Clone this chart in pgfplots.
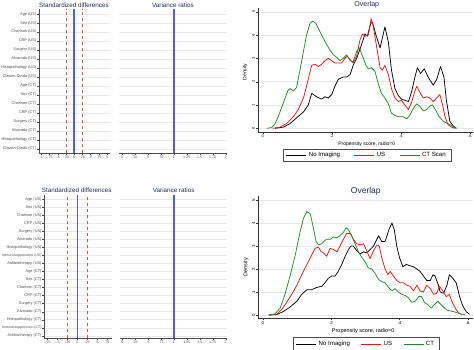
\documentclass[border=0pt]{standalone}
\usepackage{fontspec}
\setmainfont{Liberation Sans}
\usepackage{pgfplots}
\pgfplotsset{compat=1.18}
\definecolor{stblue}{RGB}{90,90,225}
\definecolor{stred}{RGB}{205,90,70}
\definecolor{stgreen}{RGB}{30,140,40}
\definecolor{stcurvered}{RGB}{240,20,20}
\definecolor{sttitle}{RGB}{30,45,90}
\definecolor{stgrid}{RGB}{232,232,232}
\newcommand{\smallerlab}[1]{{\fontsize{3.5}{4}\selectfont #1}}
\pgfplotsset{
  bal/.style={
    scale only axis, anchor=south west,
    axis x line=bottom, axis y line=left,
    axis line style={-, line width=0.4pt, black!70},
    ymajorgrids, grid style={stgrid, line width=0.4pt},
    tick style={black!70, line width=0.3pt},
    major tick length=1.8pt, tick align=outside,
    ticklabel style={font=\fontsize{3.6}{4}\selectfont, text=black!70},
    yticklabel style={font=\fontsize{3.9}{4.2}\selectfont, inner sep=0.8pt},
    xticklabel style={inner sep=0.8pt},
    every axis title/.style={font=\fontsize{6.3}{7}\selectfont, text=sttitle, anchor=center, inner sep=0pt},
  },
  vr/.style={bal, y axis line style={draw=none}, ytick style={draw=none}, yticklabels={}},
  ov/.style={
    scale only axis, anchor=south west,
    axis x line=bottom, axis y line=left,
    axis line style={-, line width=0.4pt, black!80},
    ymajorgrids, grid style={stgrid, line width=0.4pt},
    tick style={black!80, line width=0.3pt},
    major tick length=2pt, tick align=outside,
    xtick={0,0.2,0.4,0.6}, xticklabels={0,.2,.4,.6},
    ytick={0,1,2,3,4,5}, yticklabels={0,1,2,3,4,5},
    yticklabel style={rotate=90, anchor=south, inner sep=1pt},
    xticklabel style={inner sep=1pt},
    every axis title/.style={anchor=center, text=sttitle, inner sep=0pt},
    xlabel style={anchor=center}, ylabel style={anchor=center},
    legend columns=3,
    legend image code/.code={\draw[##1] (0pt,0pt) -- (20pt,0pt);},
    every axis plot/.append style={line width=0.75pt, line join=round},
  },
}
\begin{document}
\begin{tikzpicture}[x=1pt,y=1pt]
\useasboundingbox (0,0) rectangle (474,349);
\clip (0,0) rectangle (474,349);

% ---------- Top-left: standardized differences ----------
\begin{axis}[bal, at={(39pt,195.7pt)}, width=71pt, height=144.3pt,
  xmin=-1.07, xmax=1.09, ymin=0.49, ymax=16.56,
  xtick={-1,-0.75,-0.5,-0.25,0,0.25,0.5,0.75,1},
  xticklabels={-1,-.75,-.5,-.25,0,.25,.5,.75,1},
  ytick={1,...,16},
  yticklabels={Clavien-Dindo (CT),Histopathology (CT),Alvarado (CT),Surgery (CT),CRP (CT),Charlson (CT),Sex (CT),Age (CT),Clavien-Dindo (US),Histopathology (US),Alvarado (US),Surgery (US),CRP (US),Charlson (US),Sex (US),Age (US)},
  title={Standardized differences}, title style={at={(axis description cs:0.493,1.026)}}]
\addplot[stred, dashed, line width=0.5pt] coordinates {(-0.25,0.49) (-0.25,16.56)};
\addplot[stred, dashed, line width=0.5pt] coordinates {(0.25,0.49) (0.25,16.56)};
\addplot[stblue, line width=1.5pt] coordinates {(0,0.49) (0,16.56)};
\end{axis}

% ---------- Top-left: variance ratios ----------
\begin{axis}[vr, at={(119.3pt,195.7pt)}, width=107.4pt, height=144.3pt,
  xmin=-0.05, xmax=2.02, ymin=0.49, ymax=16.56,
  xtick={0,0.25,0.5,0.75,1,1.25,1.5,1.75,2},
  xticklabels={0,.25,.5,.75,1,1.25,1.5,1.75,2},
  ytick={1,...,16},
  title={Variance ratios}, title style={at={(axis description cs:0.5,1.026)}}]
\addplot[stblue, line width=1.5pt] coordinates {(1,0.49) (1,16.56)};
\end{axis}

% ---------- Top-right: overlap ----------
\begin{axis}[ov, at={(258pt,217.3pt)}, width=215.3pt, height=123.7pt,
  xmin=-0.0136, xmax=0.61, ymin=-0.146, ymax=5.16,
  ticklabel style={font=\fontsize{4}{4.5}\selectfont},
  title={Overlap}, title style={font=\fontsize{7.1}{8}\selectfont, at={(axis description cs:0.505,1.03)}},
  xlabel={Propensity score, radio=0}, xlabel style={font=\fontsize{5}{6}\selectfont, at={(axis description cs:0.505,-0.099)}},
  ylabel={Density}, ylabel style={font=\fontsize{5}{6}\selectfont, at={(axis description cs:-0.06,0.483)}},
  legend style={at={(axis description cs:0.506,-0.14)}, anchor=north, draw=black!70, line width=0.4pt,
    font=\fontsize{6.1}{7}\selectfont, inner xsep=3pt, inner ysep=1.2pt,
    /tikz/every even column/.append style={column sep=12pt}}]
\addplot[black] coordinates {(0.036,0) (0.06,0.05) (0.079,0.2) (0.098,0.45) (0.118,0.7) (0.132,1.0) (0.142,1.5) (0.156,1.35) (0.171,1.25) (0.18,1.35) (0.19,1.3) (0.2,1.45) (0.209,1.8) (0.219,2.1) (0.233,2.2) (0.243,2.2) (0.253,2.3) (0.262,2.7) (0.272,3.0) (0.282,3.4) (0.291,3.8) (0.296,4.05) (0.303,3.95) (0.313,4.5) (0.318,4.55) (0.328,4.0) (0.34,3.45) (0.354,4.35) (0.364,3.7) (0.373,2.5) (0.383,1.7) (0.393,1.4) (0.402,1.25) (0.412,1.2) (0.422,1.15) (0.431,1.55) (0.441,2.2) (0.448,2.6) (0.457,2.35) (0.468,2.55) (0.479,2.2) (0.494,1.85) (0.504,2.1) (0.515,2.65) (0.525,2.2) (0.532,1.2) (0.542,0.3) (0.552,0.1) (0.561,0)};
\addlegendentry{No Imaging}
\addplot[stcurvered] coordinates {(0.029,0) (0.05,0.05) (0.069,0.2) (0.089,0.5) (0.103,0.8) (0.118,1.3) (0.127,1.8) (0.135,2.3) (0.142,2.7) (0.151,2.75) (0.161,2.65) (0.171,2.75) (0.18,2.9) (0.19,3.0) (0.2,2.9) (0.209,2.8) (0.219,2.8) (0.229,2.8) (0.238,3.0) (0.245,3.1) (0.253,2.95) (0.262,2.8) (0.272,3.1) (0.282,3.8) (0.289,4.05) (0.296,3.95) (0.306,4.0) (0.314,4.7) (0.32,4.4) (0.33,3.5) (0.34,2.6) (0.347,2.5) (0.354,2.7) (0.364,2.3) (0.373,1.7) (0.383,1.3) (0.393,1.15) (0.402,1.2) (0.412,1.0) (0.422,0.8) (0.431,1.1) (0.441,1.6) (0.446,1.8) (0.455,1.55) (0.465,1.3) (0.475,1.35) (0.484,1.3) (0.494,1.15) (0.504,1.3) (0.513,1.45) (0.521,1.0) (0.528,0.5) (0.537,0.15) (0.547,0.05) (0.557,0)};
\addlegendentry{US}
\addplot[stgreen] coordinates {(0.012,0) (0.026,0.03) (0.036,0.2) (0.045,0.5) (0.055,0.9) (0.065,1.3) (0.074,1.65) (0.079,1.7) (0.089,1.6) (0.098,1.75) (0.108,2.5) (0.118,3.3) (0.127,4.0) (0.137,4.5) (0.145,4.6) (0.154,4.5) (0.164,4.2) (0.176,3.85) (0.185,3.6) (0.195,3.35) (0.205,3.15) (0.214,3.05) (0.224,2.9) (0.233,3.0) (0.243,3.15) (0.253,2.9) (0.262,2.85) (0.272,3.3) (0.28,3.45) (0.289,3.1) (0.299,2.7) (0.306,2.55) (0.315,2.6) (0.325,2.45) (0.335,1.9) (0.344,1.5) (0.354,1.3) (0.364,1.05) (0.373,0.65) (0.383,0.55) (0.393,0.5) (0.407,0.5) (0.417,0.4) (0.426,0.55) (0.436,0.85) (0.446,1.05) (0.455,0.95) (0.465,0.75) (0.475,0.8) (0.484,0.95) (0.492,1.0) (0.502,0.75) (0.511,0.5) (0.523,0.3) (0.537,0.2) (0.552,0.07) (0.561,0)};
\addlegendentry{CT Scan}
\end{axis}

% ---------- Bottom-left: standardized differences ----------
\begin{axis}[bal, at={(44.3pt,10.7pt)}, width=67.4pt, height=143.3pt,
  xmin=-0.833, xmax=0.869, ymin=0.68, ymax=18.54,
  xtick={-0.75,-0.5,-0.25,0,0.25,0.5,0.75},
  xticklabels={-.75,-.5,-.25,0,.25,.5,.75},
  ytick={1,...,18},
  yticklabels={Antibiotherapy (CT),\smallerlab{Immunosuppression (CT)},Histopathology (CT),Alvarado (CT),Surgery (CT),CRP (CT),Charlson (CT),Sex (CT),Age (CT),Antibiotherapy (US),\smallerlab{Immunosuppression (US)},Histopathology (US),Alvarado (US),Surgery (US),CRP (US),Charlson (US),Sex (US),Age (US)},
  title={Standardized differences}, title style={at={(axis description cs:0.481,1.03)}}]
\addplot[stred, dashed, line width=0.5pt] coordinates {(-0.25,0.68) (-0.25,18.54)};
\addplot[stred, dashed, line width=0.5pt] coordinates {(0.25,0.68) (0.25,18.54)};
\addplot[stblue, line width=1.5pt] coordinates {(0,0.68) (0,18.54)};
\end{axis}

% ---------- Bottom-left: variance ratios ----------
\begin{axis}[vr, at={(119.7pt,10.7pt)}, width=107pt, height=143.3pt,
  xmin=-0.05, xmax=2.02, ymin=0.68, ymax=18.54,
  xtick={0,0.25,0.5,0.75,1,1.25,1.5,1.75,2},
  xticklabels={0,.25,.5,.75,1,1.25,1.5,1.75,2},
  ytick={1,...,18},
  title={Variance ratios}, title style={at={(axis description cs:0.505,1.03)}}]
\addplot[stblue, line width=1.5pt] coordinates {(1,0.68) (1,18.54)};
\end{axis}

% ---------- Bottom-right: overlap ----------
\begin{axis}[ov, at={(258.3pt,30.7pt)}, width=215pt, height=122.6pt,
  xmin=-0.013, xmax=0.616, ymin=-0.143, ymax=5.19,
  ticklabel style={font=\fontsize{4.4}{5}\selectfont},
  title={Overlap}, title style={font=\fontsize{8.5}{9}\selectfont, at={(axis description cs:0.5,1.038)}},
  xlabel={Propensity score, radio=0}, xlabel style={font=\fontsize{5.5}{6.5}\selectfont, at={(axis description cs:0.488,-0.101)}},
  ylabel={Density}, ylabel style={font=\fontsize{5.5}{6.5}\selectfont, at={(axis description cs:-0.057,0.416)}},
  legend style={at={(axis description cs:0.501,-0.155)}, anchor=north, draw=black!70, line width=0.4pt,
    font=\fontsize{6.1}{7}\selectfont, inner xsep=3pt, inner ysep=1.5pt,
    /tikz/every even column/.append style={column sep=9pt}}]
\addplot[black] coordinates {(0.017,0) (0.041,0.02) (0.06,0.15) (0.08,0.35) (0.1,0.6) (0.114,0.9) (0.129,1.1) (0.143,1.1) (0.158,1.2) (0.173,1.25) (0.182,1.4) (0.192,1.6) (0.202,1.7) (0.212,1.7) (0.221,1.9) (0.231,2.2) (0.241,2.55) (0.251,2.85) (0.258,3.0) (0.265,3.0) (0.275,2.8) (0.285,2.65) (0.295,2.75) (0.304,2.7) (0.314,2.85) (0.324,3.0) (0.334,3.3) (0.339,3.45) (0.348,3.2) (0.358,3.2) (0.37,3.75) (0.378,4.0) (0.385,3.7) (0.392,3.0) (0.4,2.5) (0.41,2.1) (0.42,2.2) (0.429,2.15) (0.441,2.1) (0.451,2.0) (0.46,1.9) (0.47,1.7) (0.48,1.5) (0.49,1.5) (0.498,1.75) (0.504,1.7) (0.514,1.3) (0.519,1.0) (0.529,0.95) (0.539,1.3) (0.546,1.75) (0.556,1.6) (0.566,1.4) (0.576,0.8) (0.585,0.4) (0.595,0.15) (0.605,0.03)};
\addlegendentry{No Imaging}
\addplot[stcurvered] coordinates {(0.021,0) (0.041,0.03) (0.056,0.25) (0.07,0.55) (0.085,0.9) (0.1,1.3) (0.114,1.75) (0.129,2.2) (0.143,2.6) (0.153,2.9) (0.163,2.95) (0.171,2.75) (0.178,2.7) (0.187,2.55) (0.197,2.9) (0.207,2.85) (0.217,2.75) (0.226,3.0) (0.236,3.3) (0.246,3.55) (0.256,3.55) (0.265,3.3) (0.275,3.1) (0.285,3.05) (0.295,3.1) (0.304,2.8) (0.314,2.45) (0.324,2.8) (0.334,3.05) (0.341,3.0) (0.348,2.5) (0.358,2.0) (0.366,1.75) (0.373,1.9) (0.382,1.7) (0.392,1.5) (0.402,1.4) (0.412,1.4) (0.421,1.3) (0.431,1.25) (0.441,1.05) (0.451,1.3) (0.46,1.05) (0.47,1.0) (0.48,1.3) (0.49,1.15) (0.5,0.9) (0.509,0.95) (0.517,1.25) (0.527,1.05) (0.537,0.8) (0.546,0.9) (0.553,0.6) (0.563,0.3) (0.573,0.1) (0.582,0.02)};
\addlegendentry{US}
\addplot[stgreen] coordinates {(0.017,0) (0.036,0.05) (0.051,0.3) (0.065,0.9) (0.08,1.7) (0.095,2.6) (0.109,3.6) (0.119,4.2) (0.129,4.5) (0.139,4.4) (0.148,3.8) (0.156,3.2) (0.163,3.05) (0.173,3.1) (0.182,3.25) (0.189,3.3) (0.199,3.3) (0.207,3.4) (0.217,3.35) (0.226,3.45) (0.236,3.6) (0.244,3.8) (0.251,3.7) (0.26,3.45) (0.27,3.1) (0.28,2.75) (0.29,2.5) (0.3,2.3) (0.309,2.05) (0.319,2.0) (0.329,1.8) (0.339,1.55) (0.348,1.45) (0.358,1.4) (0.368,1.2) (0.378,1.05) (0.387,1.15) (0.397,1.0) (0.407,0.9) (0.417,0.85) (0.426,0.75) (0.436,0.55) (0.446,0.6) (0.456,0.8) (0.465,0.8) (0.473,0.55) (0.483,0.45) (0.493,0.3) (0.502,0.45) (0.512,0.6) (0.522,0.45) (0.532,0.3) (0.541,0.2) (0.558,0.15) (0.578,0.05) (0.592,0.01)};
\addlegendentry{CT}
\end{axis}
\end{tikzpicture}
\end{document}
